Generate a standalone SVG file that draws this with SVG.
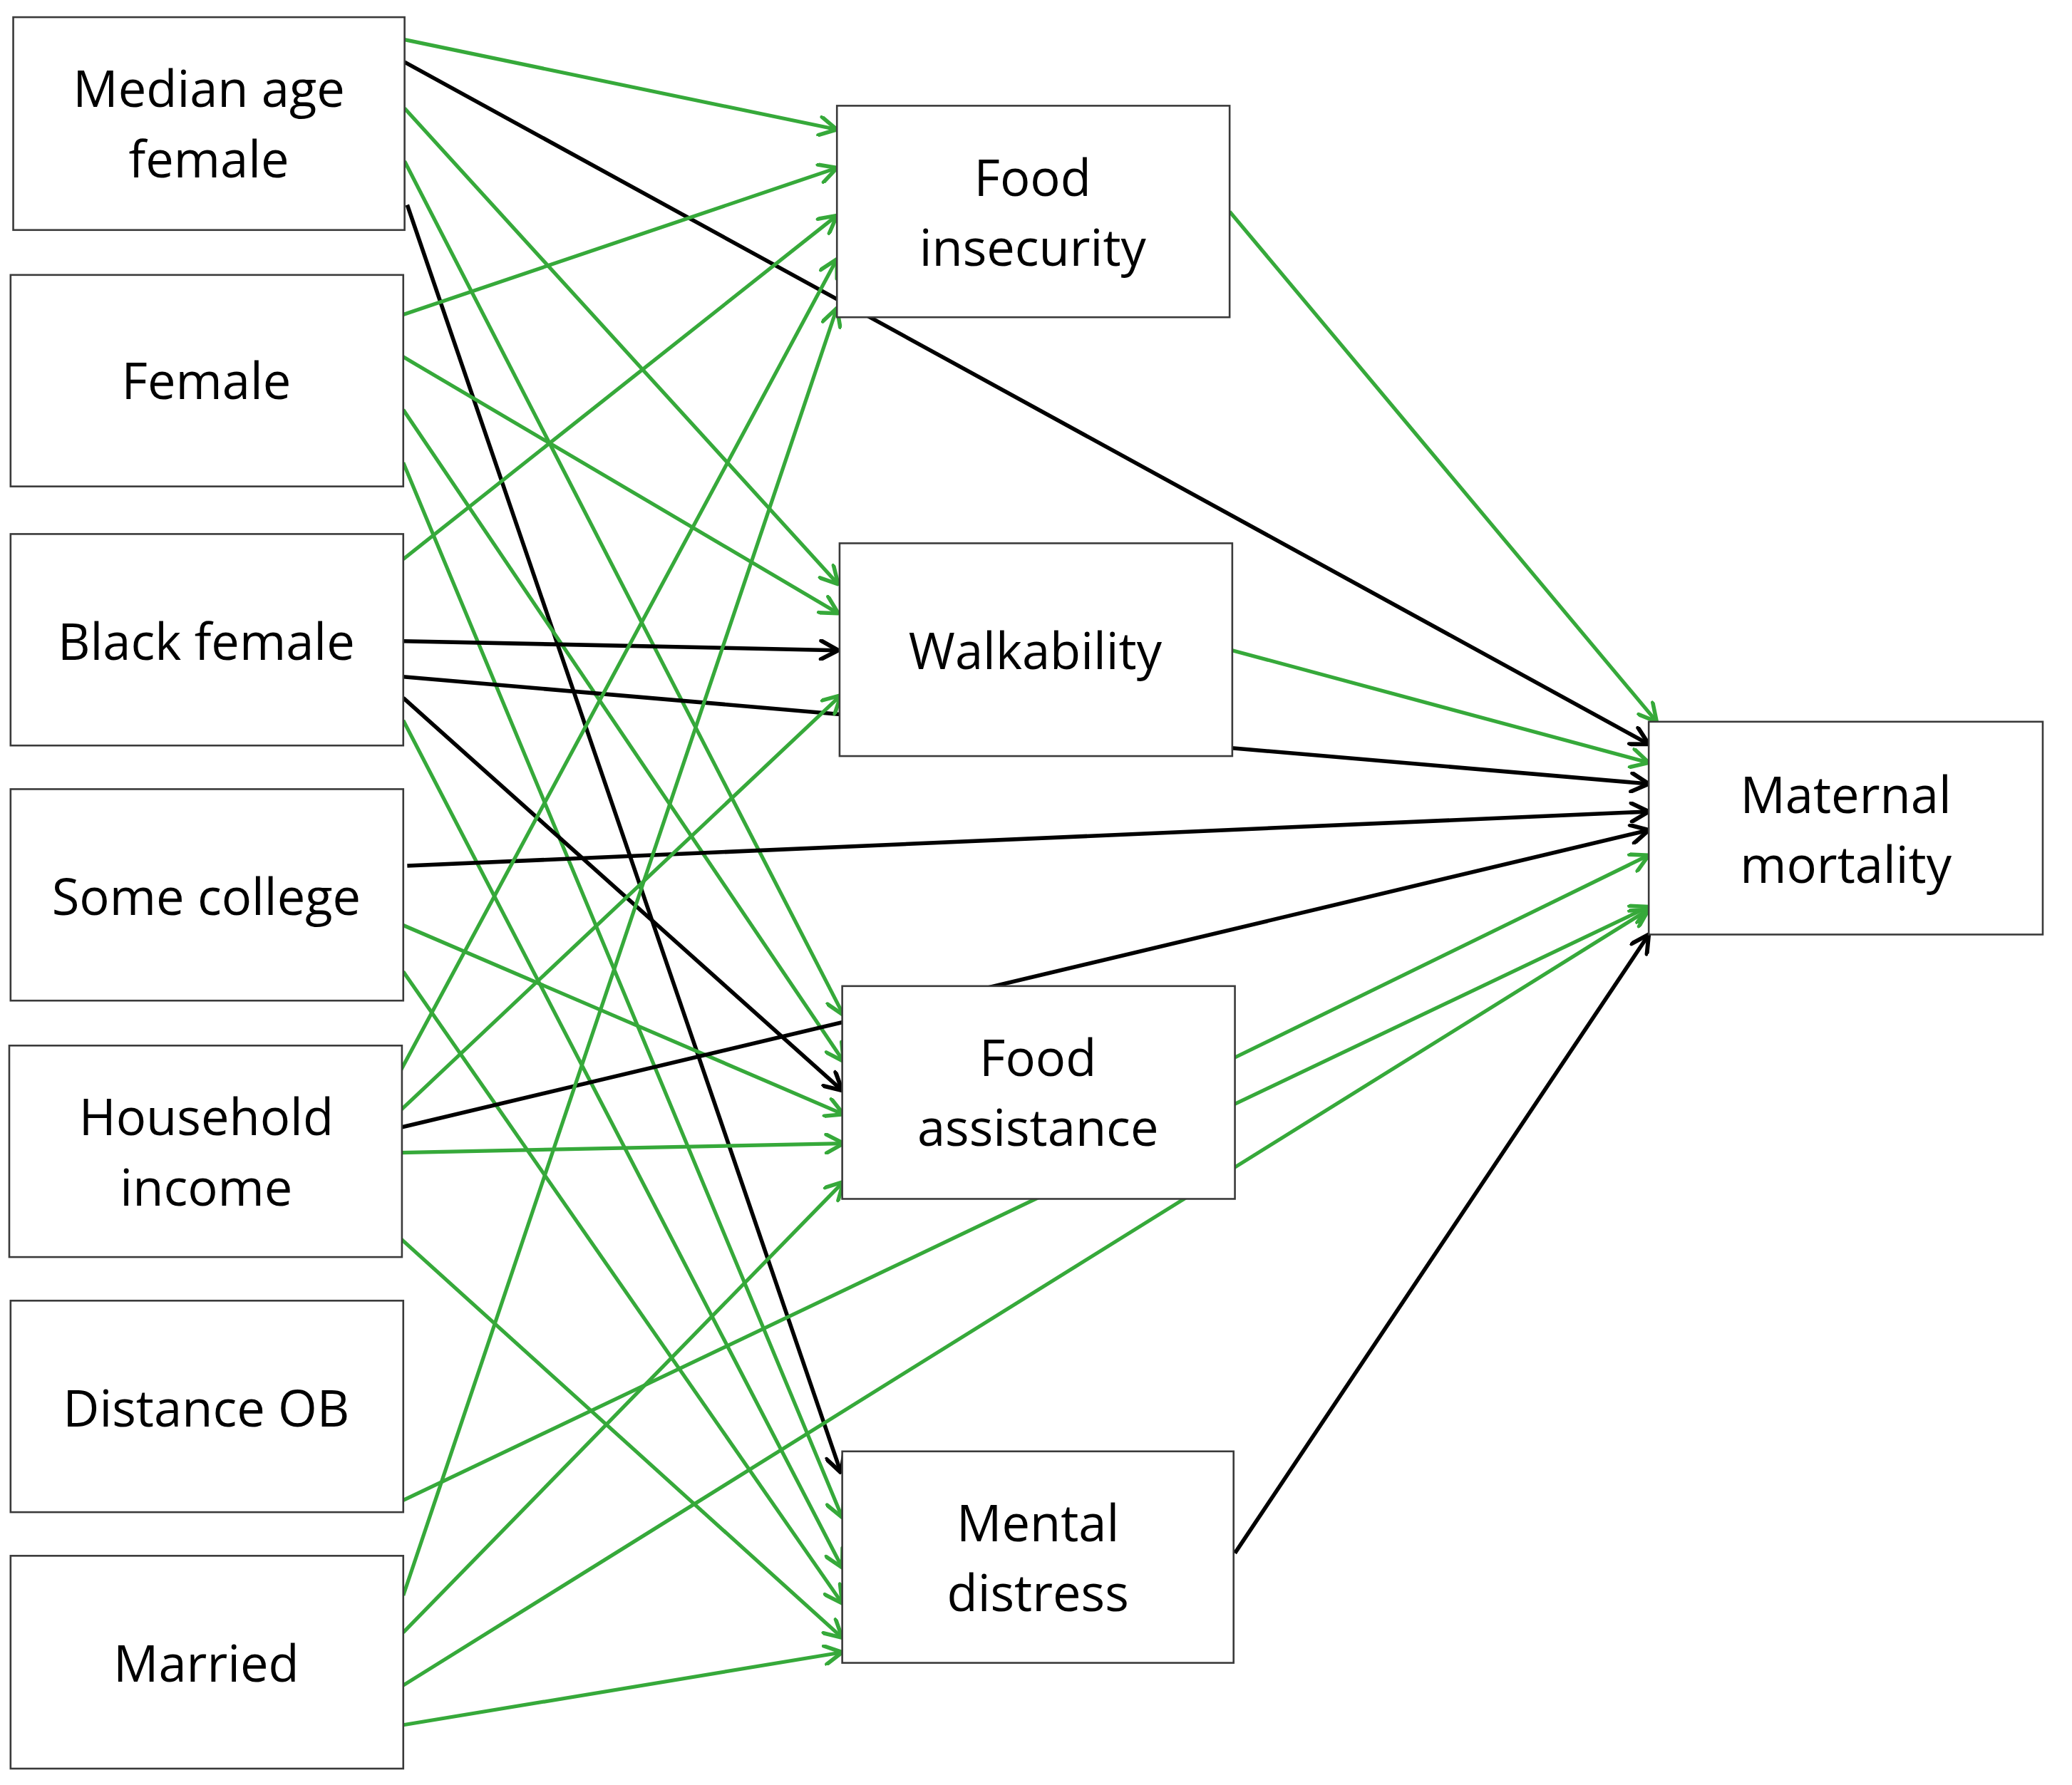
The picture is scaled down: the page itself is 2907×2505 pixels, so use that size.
<svg xmlns="http://www.w3.org/2000/svg" width="2907" height="2505" viewBox="0 0 2907 2505">
<defs>
<marker id="ag" viewBox="0 0 16 16" refX="15" refY="8" markerWidth="16" markerHeight="16" markerUnits="userSpaceOnUse" orient="auto"><path d="M2,1 L15,8 L2,15" fill="none" stroke="#36a93a" stroke-width="3" stroke-linecap="round" stroke-linejoin="round"/></marker>
<marker id="ak" viewBox="0 0 16 16" refX="15" refY="8" markerWidth="16" markerHeight="16" markerUnits="userSpaceOnUse" orient="auto"><path d="M2,1 L15,8 L2,15" fill="none" stroke="#000" stroke-width="3.2" stroke-linecap="round" stroke-linejoin="round"/></marker>
<style>
.b{fill:#fff;stroke:#3a3a3a;stroke-width:1.4}
.t{font-family:"Open Sans","Liberation Sans",sans-serif;font-size:38px;fill:#000;text-anchor:middle}
.g{stroke:#36a93a;stroke-width:2.8;fill:none;marker-end:url(#ag)}
.k{stroke:#000;stroke-width:3;fill:none;marker-end:url(#ak)}
</style>
</defs>
<rect width="2907" height="2505" fill="#fff"/>
<g transform="scale(1.855)">
<g id="connectors">
<line class="g" x1="306" y1="30" x2="633" y2="98"/>
<line class="k" x1="306" y1="47" x2="1247" y2="563"/>
<line class="g" x1="306" y1="82" x2="634" y2="442"/>
<line class="g" x1="306" y1="122" x2="638" y2="768"/>
<line class="k" x1="308" y1="155" x2="636" y2="1114"/>
<line class="g" x1="305" y1="238" x2="633" y2="127"/>
<line class="g" x1="305" y1="270" x2="634" y2="464"/>
<line class="g" x1="305" y1="310" x2="638" y2="803"/>
<line class="g" x1="305" y1="350" x2="637" y2="1148"/>
<line class="g" x1="305" y1="423" x2="633" y2="163"/>
<line class="k" x1="305" y1="485" x2="634" y2="492"/>
<line class="k" x1="305" y1="512" x2="1247" y2="593"/>
<line class="k" x1="305" y1="528" x2="637" y2="825"/>
<line class="g" x1="305" y1="545" x2="637" y2="1186"/>
<line class="k" x1="308" y1="655" x2="1247" y2="614"/>
<line class="g" x1="305" y1="700" x2="638" y2="843"/>
<line class="g" x1="305" y1="735" x2="637" y2="1213"/>
<line class="g" x1="303" y1="810" x2="633" y2="196"/>
<line class="g" x1="303" y1="840" x2="636" y2="526"/>
<line class="k" x1="303" y1="853" x2="1247" y2="628"/>
<line class="g" x1="303" y1="872" x2="638" y2="865"/>
<line class="g" x1="303" y1="937" x2="637" y2="1239"/>
<line class="g" x1="305" y1="1135" x2="1247" y2="686"/>
<line class="g" x1="305" y1="1207" x2="633" y2="233"/>
<line class="g" x1="305" y1="1235" x2="638" y2="894"/>
<line class="g" x1="305" y1="1275" x2="1247" y2="688"/>
<line class="g" x1="305" y1="1305" x2="637" y2="1250"/>
<line class="g" x1="930" y1="160" x2="1253" y2="546"/>
<line class="g" x1="932" y1="492" x2="1247" y2="577"/>
<line class="g" x1="934" y1="800" x2="1247" y2="647"/>
<line class="k" x1="934" y1="1175" x2="1247" y2="707"/>
</g>
<g id="n_median"><rect class="b" x="10" y="13" width="296" height="161"/><text class="t" x="158" y="81">Median age</text><text class="t" x="158" y="134">female</text></g>
<g id="n_female"><rect class="b" x="8" y="208" width="297" height="160"/><text class="t" x="156" y="302">Female</text></g>
<g id="n_black"><rect class="b" x="8" y="404" width="297" height="160"/><text class="t" x="156" y="499">Black female</text></g>
<g id="n_college"><rect class="b" x="8" y="597" width="297" height="160"/><text class="t" x="156" y="692">Some college</text></g>
<g id="n_income"><rect class="b" x="7" y="791" width="297" height="160"/><text class="t" x="156" y="859">Household</text><text class="t" x="156" y="912">income</text></g>
<g id="n_distance"><rect class="b" x="8" y="984" width="297" height="160"/><text class="t" x="156" y="1079">Distance OB</text></g>
<g id="n_married"><rect class="b" x="8" y="1177" width="297" height="161"/><text class="t" x="156" y="1272">Married</text></g>
<g id="n_foodins"><rect class="b" x="633" y="80" width="297" height="160"/><text class="t" x="781" y="148">Food</text><text class="t" x="781" y="201">insecurity</text></g>
<g id="n_walk"><rect class="b" x="635" y="411" width="297" height="161"/><text class="t" x="783" y="506">Walkability</text></g>
<g id="n_foodass"><rect class="b" x="637" y="746" width="297" height="161"/><text class="t" x="785" y="814">Food</text><text class="t" x="785" y="867">assistance</text></g>
<g id="n_mental"><rect class="b" x="637" y="1098" width="296" height="160"/><text class="t" x="785" y="1166">Mental</text><text class="t" x="785" y="1219">distress</text></g>
<g id="n_maternal"><rect class="b" x="1247" y="546" width="298" height="161"/><text class="t" x="1396" y="615">Maternal</text><text class="t" x="1396" y="668">mortality</text></g>
</g>
</svg>
